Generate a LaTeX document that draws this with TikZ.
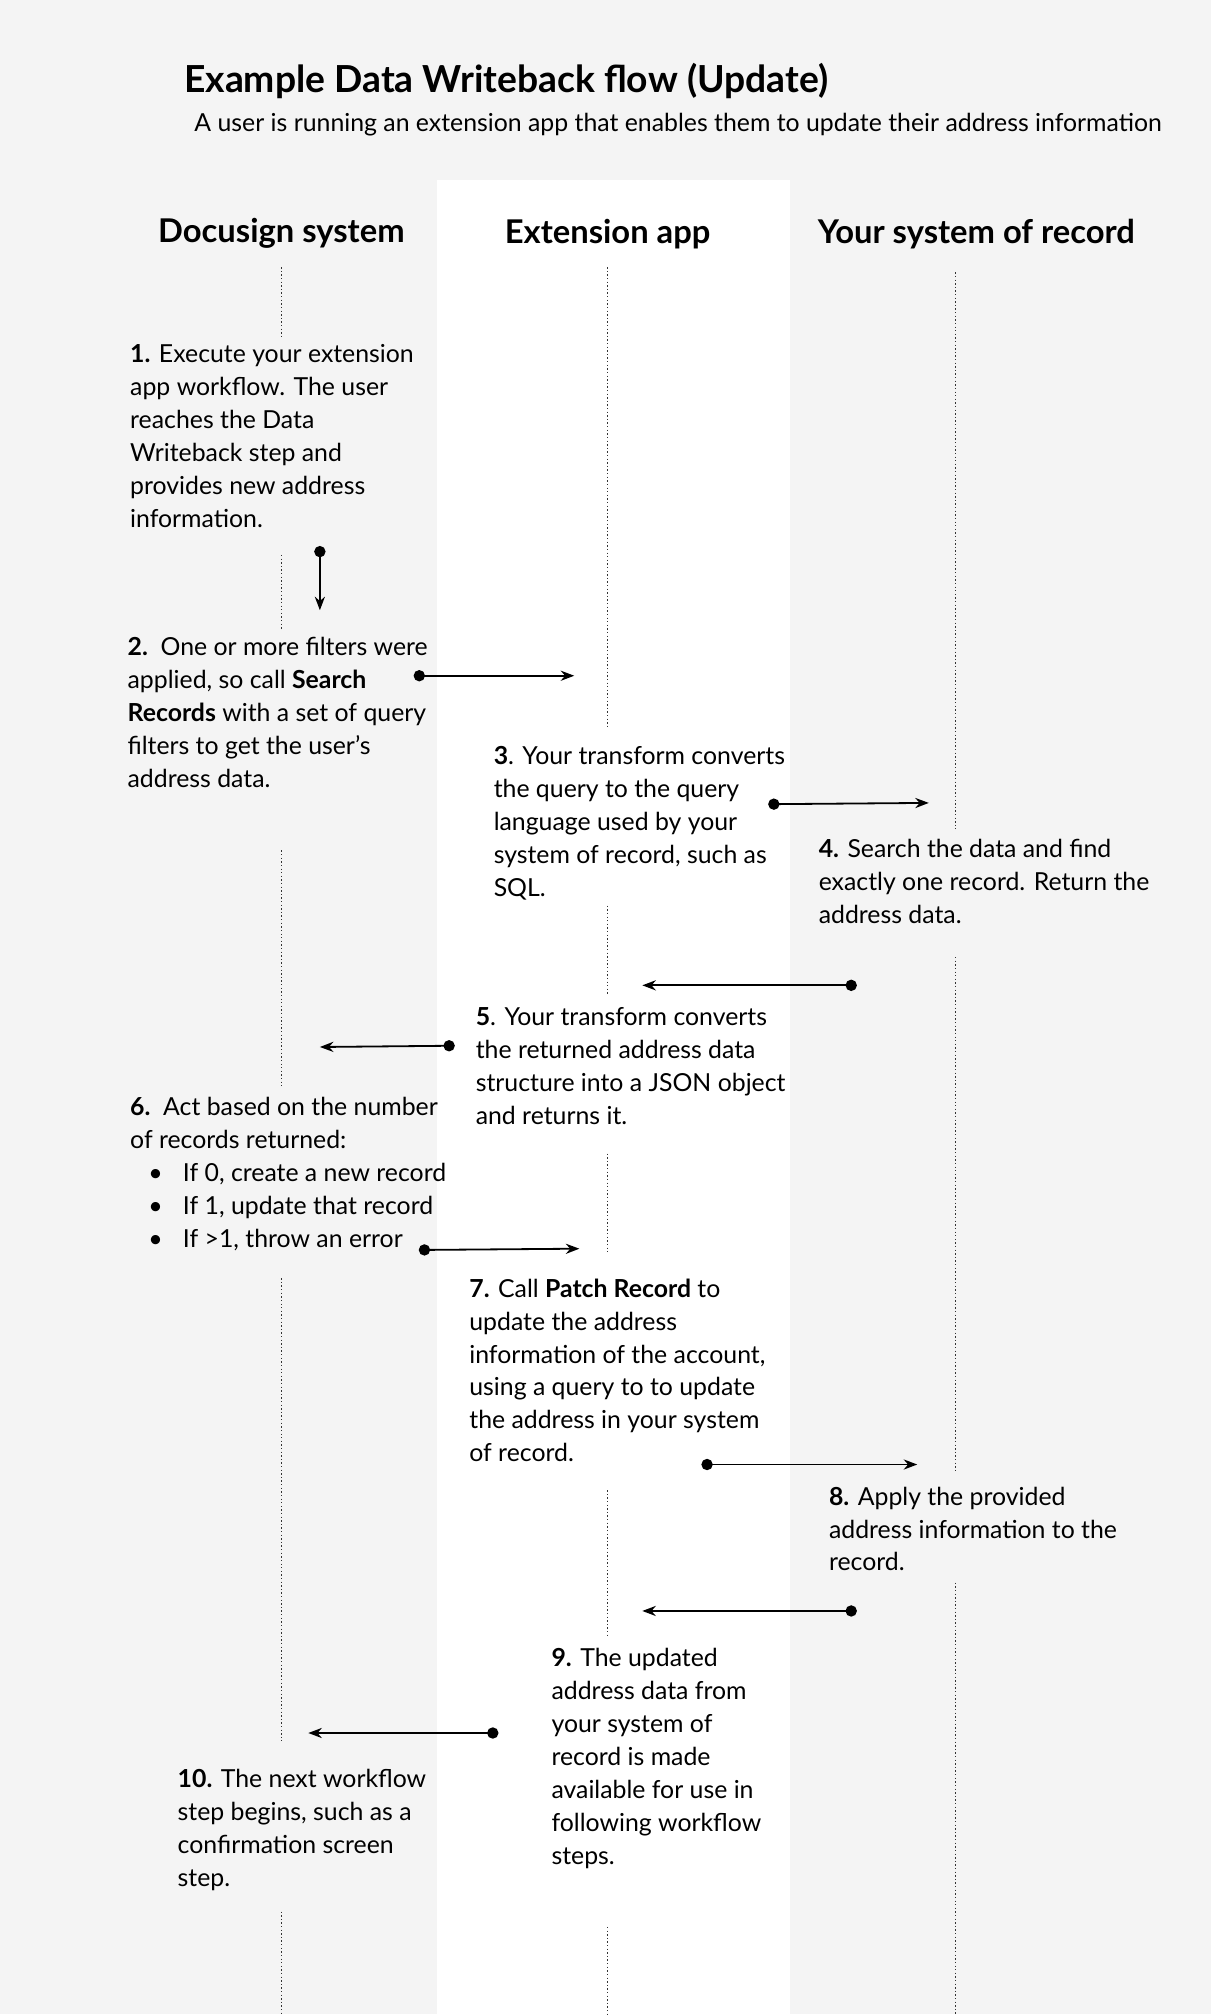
\documentclass[tikz,border=0pt]{standalone}
\usepackage{fontspec}
\setmainfont{Lato}
\usetikzlibrary{arrows.meta}
\definecolor{bg}{HTML}{F4F4F4}
\begin{document}
\begin{tikzpicture}[x=0.02cm,y=-0.02cm,
  life/.style={densely dotted,line width=0.6pt,black!80},
  msg/.style={line width=0.8pt,{Circle[length=5pt]}-{Stealth[length=6pt]}},
  txt/.style={anchor=north west,inner sep=0pt,align=left,font=\fontsize{11}{14.6}\selectfont},
  hdr/.style={font=\fontsize{14.5}{17}\selectfont\bfseries}]
\fill[bg] (0,0) rectangle (943,1568);
\fill[white] (340,140) rectangle (615,1568);
\node[anchor=west,inner sep=0pt,font=\fontsize{16.5}{20}\selectfont\bfseries] (title) at (143,63) {Example Data Writeback flow (Update)};
\node[anchor=west,inner sep=0pt,font=\fontsize{11}{14}\selectfont] (sub) at (151,97) {A user is running an extension app that enables them to update their address information};
\node[hdr] (h1) at (219,182) {Docusign system};
\node[hdr] (h2) at (473,182) {Extension app};
\node[hdr] (h3) at (760,182) {Your system of record};
% lifelines
\foreach \a/\b in {208/262,432/490,662/845,995/1355,1488/1568}{\draw[life] (219,\a) -- (219,\b);}
\foreach \a/\b in {208/567,705/775,898/975,1160/1275,1500/1568}{\draw[life] (473,\a) -- (473,\b);}
\foreach \a/\b in {212/645,745/1145,1232/1568}{\draw[life] (744,\a) -- (744,\b);}
% texts
\node[txt] (t1) at (101,268) {\textbf{1.} Execute your extension\\app workflow. The user\\reaches the Data\\Writeback step and\\provides new address\\information.};
\node[txt] (t2) at (99,496) {\textbf{2.}\ \ One or more filters were\\applied, so call \textbf{Search}\\\textbf{Records} with a set of query\\filters to get the user’s\\address data.};
\node[txt] (t3) at (384,581) {\textbf{3}. Your transform converts\\the query to the query\\language used by your\\system of record, such as\\SQL.};
\node[txt] (t4) at (637,653) {\textbf{4.} Search the data and find\\exactly one record. Return the\\address data.};
\node[txt] (t5) at (370,784) {\textbf{5}. Your transform converts\\the returned address data\\structure into a JSON object\\and returns it.};
\node[txt] (t6) at (101,854) {\textbf{6.}\ \ Act based on the number\\of records returned:\\[0pt]\hspace*{8pt}•\hspace{9pt}If 0, create a new record\\\hspace*{8pt}•\hspace{9pt}If 1, update that record\\\hspace*{8pt}•\hspace{9pt}If >1, throw an error};
\node[txt] (t7) at (365,995) {\textbf{7.} Call \textbf{Patch Record} to\\update the address\\information of the account,\\using a query to to update\\the address in your system\\of record.};
\node[txt] (t8) at (645,1157) {\textbf{8.} Apply the provided\\address information to the\\record.};
\node[txt] (t9) at (429,1283) {\textbf{9.} The updated\\address data from\\your system of\\record is made\\available for use in\\following workflow\\steps.};
\node[txt] (t10) at (138,1377) {\textbf{10.} The next workflow\\step begins, such as a\\confirmation screen\\step.};
% arrows
\coordinate (a1) at (249,425); \coordinate (b1) at (249,475);
\coordinate (a2) at (322,526); \coordinate (b2) at (447,526);
\coordinate (a3) at (598,626); \coordinate (b3) at (723,625);
\coordinate (a4) at (667,767); \coordinate (b4) at (500,767);
\coordinate (a5) at (354,814); \coordinate (b5) at (249,815);
\coordinate (a6) at (326,973); \coordinate (b6) at (451,972);
\coordinate (a7) at (546,1140); \coordinate (b7) at (714,1140);
\coordinate (a8) at (667,1254); \coordinate (b8) at (500,1254);
\coordinate (a9) at (388,1349); \coordinate (b9) at (240,1349);
\foreach \i in {1,...,9}{\draw[msg] (a\i) -- (b\i);}
\end{tikzpicture}
\end{document}
